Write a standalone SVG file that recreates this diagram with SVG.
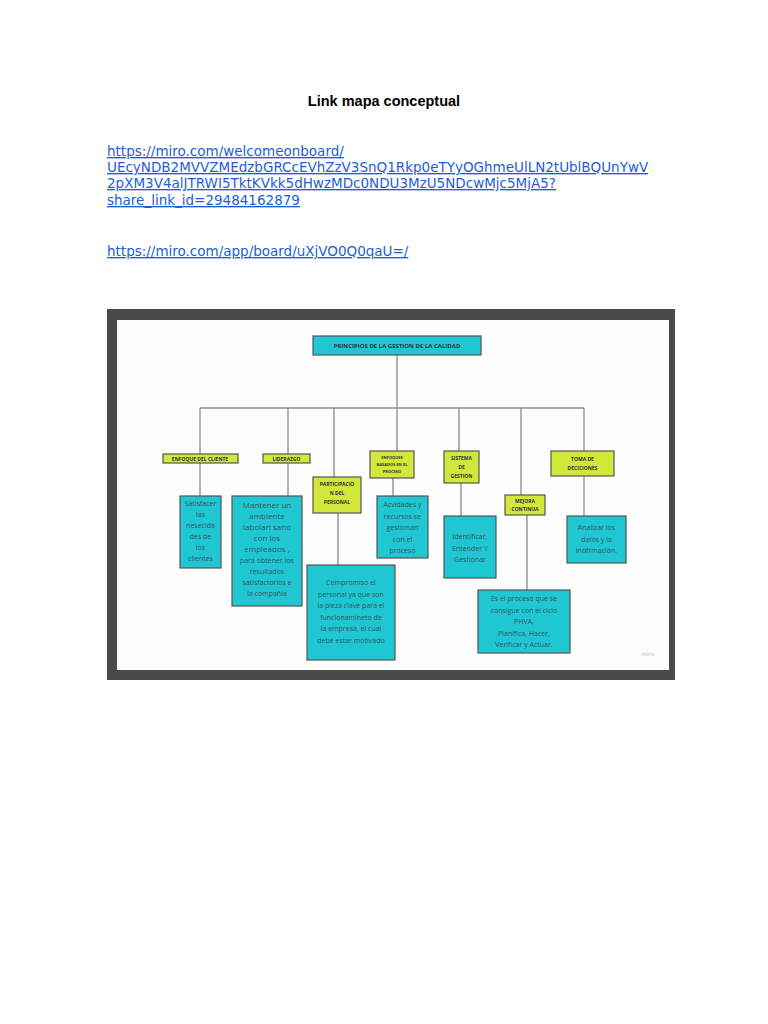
<svg xmlns="http://www.w3.org/2000/svg" width="768" height="1024" viewBox="0 0 768 1024">
<style>
.link{font-family:"DejaVu Sans",sans-serif;font-size:13.5px;fill:#1a5fd6;text-decoration:underline}
.hd{fill:#cfe83a;stroke:#555;stroke-width:1.2}
.bx{fill:#1fc7d3;stroke:#555;stroke-width:1.2}
.ht{font-family:"Open Sans",sans-serif;font-size:5px;font-weight:bold;fill:#333;text-anchor:middle}
.bt{font-family:"Open Sans",sans-serif;font-size:7px;fill:#35555a;text-anchor:middle}
.cn{stroke:#8a8a8a;stroke-width:1.3;fill:none}
</style>
<rect width="768" height="1024" fill="#fff"/>
<text x="384" y="106" font-family="Liberation Sans,sans-serif" font-size="14.5" font-weight="bold" text-anchor="middle">Link mapa conceptual</text>
<text class="link" x="107" y="156">https://miro.com/welcomeonboard/</text>
<text class="link" x="107" y="172">UEcyNDB2MVVZMEdzbGRCcEVhZzV3SnQ1Rkp0eTYyOGhmeUlLN2tUblBQUnYwV</text>
<text class="link" x="107" y="188">2pXM3V4alJTRWI5TktKVkk5dHwzMDc0NDU3MzU5NDcwMjc5MjA5?</text>
<text class="link" x="107" y="205">share_link_id=29484162879</text>
<text class="link" x="107" y="256">https://miro.com/app/board/uXjVO0Q0qaU=/</text>
<rect x="107" y="309" width="568" height="371" fill="#4a4a4a"/>
<rect x="117" y="320" width="552" height="350" fill="#fdfdfd"/>
<g id="connectors">
<path class="cn" d="M397 355V408M200 408H584M200 408V454M200 463V496M288 408V454M288 463V496M334 408V477M338 513V565M397 408V451M393 478V496M459 408V451M461 483V516M521 408V495M527 515V590M584 408V451M584 476V516"/>
</g>
<g id="title"><rect x="313" y="336" width="168" height="19" fill="#1fc7d3" stroke="#555" stroke-width="1.2"/><text class="ht" x="397" y="348" style="font-size:6px">PRINCIPIOS DE LA GESTION DE LA CALIDAD</text></g>
<g id="n1"><rect class="hd" x="163" y="454" width="75" height="9"/><text class="ht" x="200" y="460.5">ENFOQUE DEL CLIENTE</text></g>
<g id="n1b"><rect class="bx" x="180" y="496" width="41" height="72"/><text class="bt" x="200.5" y="506">Satisfacer<tspan x="200.5" dy="11">las</tspan><tspan x="200.5" dy="11">nesecida</tspan><tspan x="200.5" dy="11">des de</tspan><tspan x="200.5" dy="11">los</tspan><tspan x="200.5" dy="11">clientes</tspan></text></g>
<g id="n2"><rect class="hd" x="263" y="454" width="47" height="9"/><text class="ht" x="286.5" y="460.5">LIDERAZGO</text></g>
<g id="n2b"><rect class="bx" x="232" y="496" width="70" height="110"/><text class="bt" x="267" y="508" style="font-size:8px">Mantener un<tspan x="267" dy="11">ambiente</tspan><tspan x="267" dy="11">labolarl sano</tspan><tspan x="267" dy="11">con los</tspan><tspan x="267" dy="11">empleados ,</tspan><tspan x="267" dy="11" style="font-size:7px">para obtener los</tspan><tspan x="267" dy="11" style="font-size:7px">resultados</tspan><tspan x="267" dy="11" style="font-size:7px">satisfactorios e</tspan><tspan x="267" dy="11" style="font-size:7px">la compañia</tspan></text></g>
<g id="n3"><rect class="hd" x="313" y="477" width="48" height="36"/><text class="ht" x="337" y="486">PARTICIPACIO<tspan x="337" dy="9">N DEL</tspan><tspan x="337" dy="9">PERSONAL</tspan></text></g>
<g id="n3b"><rect class="bx" x="307" y="565" width="88" height="95"/><text class="bt" x="351" y="585">Compromiso el<tspan x="351" dy="11.5">personal ya que son</tspan><tspan x="351" dy="11.5">la pieza clave para el</tspan><tspan x="351" dy="11.5">funcionaminetо de</tspan><tspan x="351" dy="11.5">la empresa, el cual</tspan><tspan x="351" dy="11.5">debe estar motivado</tspan></text></g>
<g id="n4"><rect class="hd" x="370" y="451" width="44" height="27"/><text class="ht" x="392" y="459" style="font-size:4px">ENFOQUES<tspan x="392" dy="7">BASADOS EN EL</tspan><tspan x="392" dy="7">PROCESO</tspan></text></g>
<g id="n4b"><rect class="bx" x="377" y="496" width="51" height="62"/><text class="bt" x="402.5" y="507">Acvidades y<tspan x="402.5" dy="11.5">recursos se</tspan><tspan x="402.5" dy="11.5">gestionan</tspan><tspan x="402.5" dy="11.5">con el</tspan><tspan x="402.5" dy="11.5">proceso</tspan></text></g>
<g id="n5"><rect class="hd" x="444" y="451" width="35" height="32"/><text class="ht" x="461.5" y="460">SISTEMA<tspan x="461.5" dy="9">DE</tspan><tspan x="461.5" dy="9">GESTION</tspan></text></g>
<g id="n5b"><rect class="bx" x="444" y="516" width="52" height="62"/><text class="bt" x="470" y="539">Identificar,<tspan x="470" dy="11.5">Entender Y</tspan><tspan x="470" dy="11.5">Gestionar</tspan></text></g>
<g id="n6"><rect class="hd" x="505" y="495" width="40" height="20"/><text class="ht" x="525" y="503">MEJORA<tspan x="525" dy="8">CONTINUA</tspan></text></g>
<g id="n6b"><rect class="bx" x="478" y="590" width="92" height="63"/><text class="bt" x="524" y="601">Es el proceso que se<tspan x="524" dy="11.5">consigue con el ciclo</tspan><tspan x="524" dy="11.5">PHVA,</tspan><tspan x="524" dy="11.5">Planifica, Hacer,</tspan><tspan x="524" dy="11.5">Verificar  y Actuar.</tspan></text></g>
<g id="n7"><rect class="hd" x="551" y="451" width="63" height="25"/><text class="ht" x="582.5" y="461">TOMA DE<tspan x="582.5" dy="9">DECICIONES</tspan></text></g>
<g id="n7b"><rect class="bx" x="567" y="516" width="59" height="47"/><text class="bt" x="596.5" y="530">Analizar los<tspan x="596.5" dy="11.5">datos y la</tspan><tspan x="596.5" dy="11.5">inofrmación.</tspan></text></g>
<text x="648" y="656" font-family="Open Sans,sans-serif" font-size="6" fill="#bbb" text-anchor="middle">miro</text>
</svg>
